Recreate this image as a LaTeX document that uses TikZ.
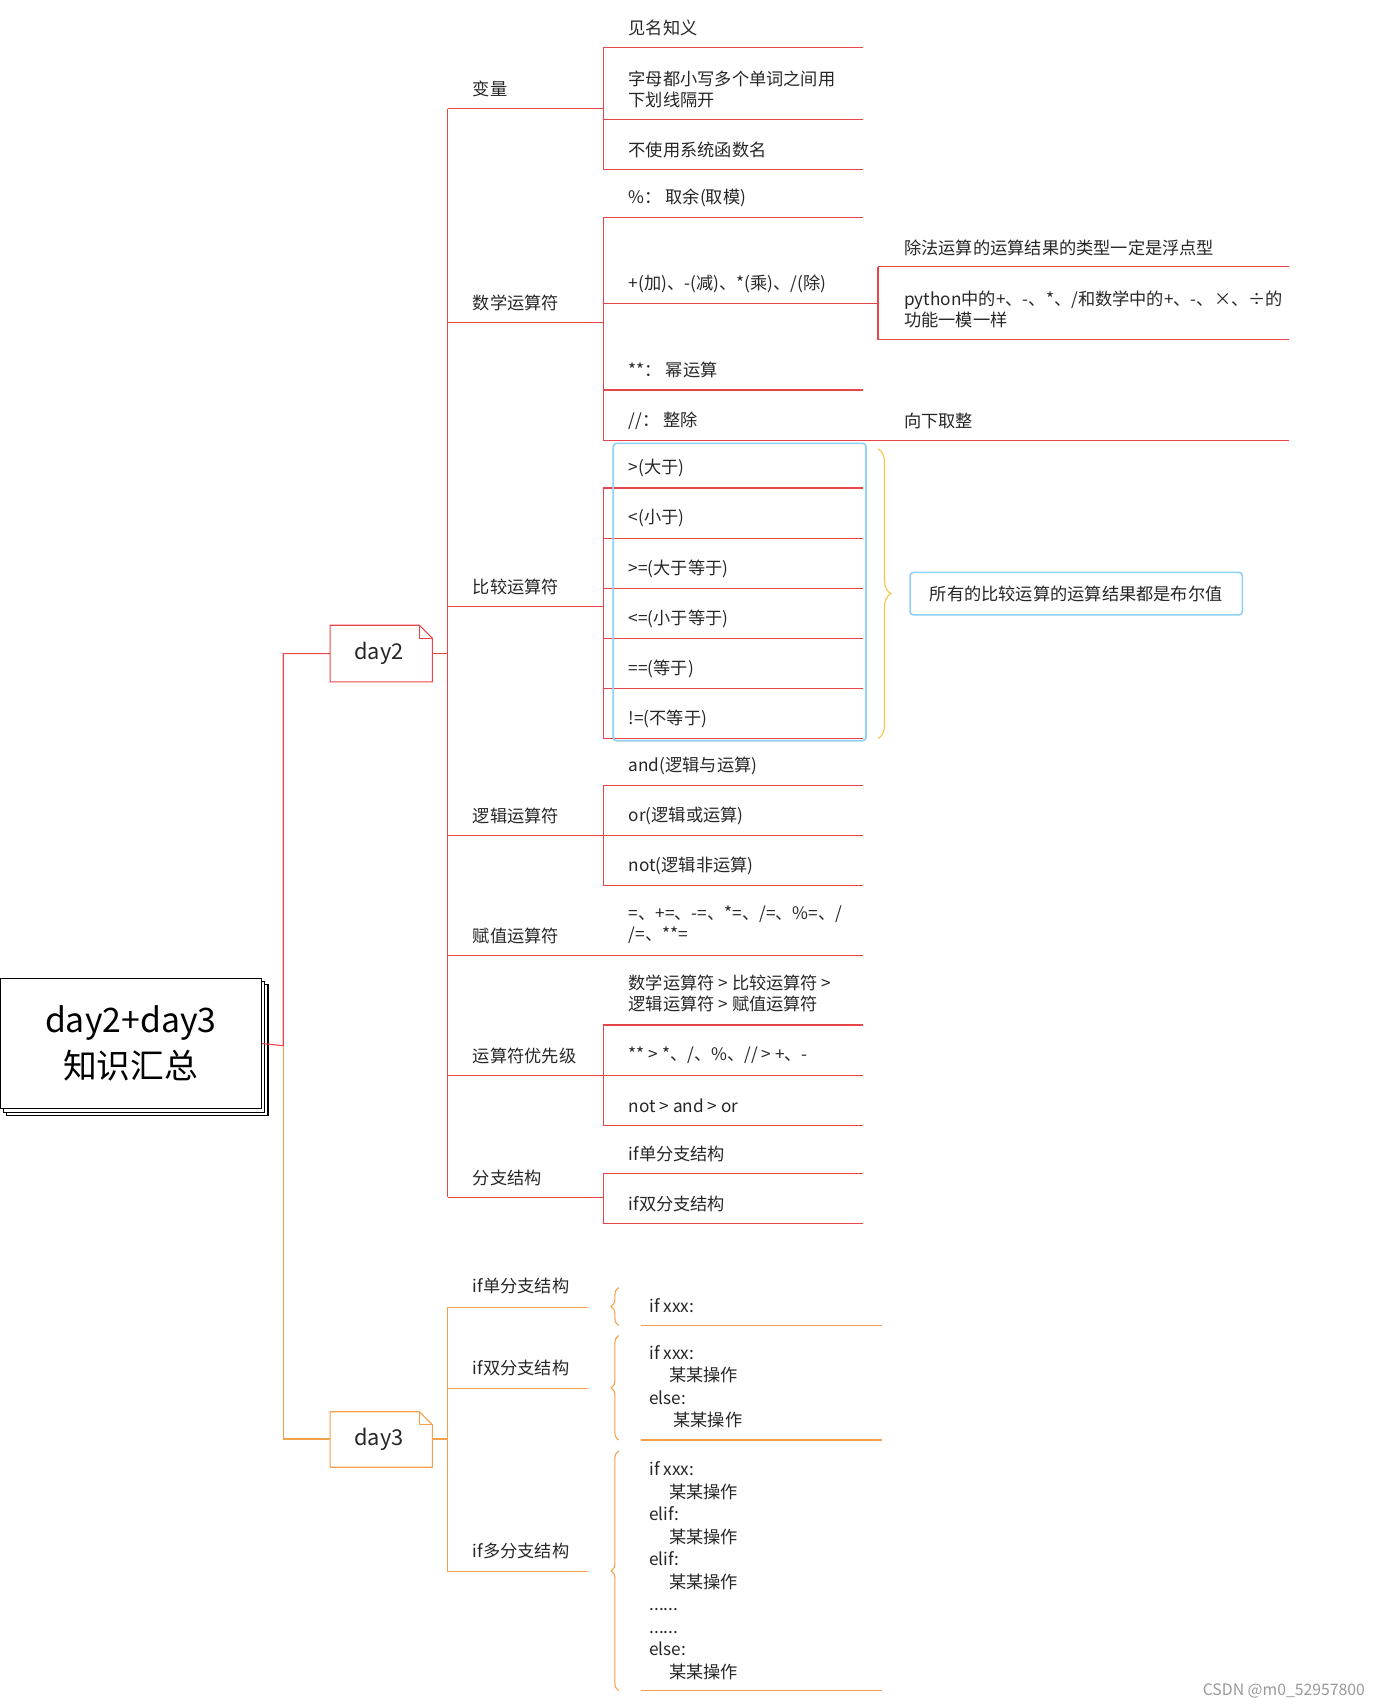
\documentclass[tikz,border=0pt]{standalone}
\usepackage{fontspec}
\setmainfont{Noto Sans CJK SC}
\usetikzlibrary{decorations.pathreplacing}
\definecolor{rd}{HTML}{E8454A}
\definecolor{og}{HTML}{F5A04A}
\definecolor{bl}{HTML}{8FD0F5}
\definecolor{yl}{HTML}{F5C242}
\tikzset{
 t/.style={anchor=west,inner sep=0pt,font=\fontsize{15.8}{19}\selectfont,align=left,text=black!85},
 r/.style={draw=rd,line width=1pt},
 o/.style={draw=og,line width=1pt},
}
\begin{document}
\begin{tikzpicture}[x=1pt,y=-1pt]
\useasboundingbox (0,0) rectangle (1280,1568);
% root
\draw[line width=1pt] (6,904) rectangle (246,1024);
\draw[line width=1pt,fill=white] (3,901) rectangle (243,1021);
\node[draw,line width=1pt,fill=white,minimum width=240pt,minimum height=120pt,inner sep=0pt,align=center,font=\fontsize{31}{42}\selectfont] (root) at (120,958) {day2+day3\\知识汇总};
\coordinate (j) at (260,960);
\draw[r] (root.east) -- (j) -- (260,600) -- (303,600);
\draw[o] (j) -- (260,1321) -- (303,1321);
% day2
\draw[r,fill=white] (303,574) -- (385,574) -- (397,586) -- (397,626) -- (303,626) -- cycle;
\draw[r] (385,574) -- (385,586) -- (397,586);
\node[t,anchor=center,font=\fontsize{20}{22}\selectfont] (d2) at (348,600) {day2};
\draw[o,fill=white] (303,1296) -- (385,1296) -- (397,1308) -- (397,1347) -- (303,1347) -- cycle;
\draw[o] (385,1296) -- (385,1308) -- (397,1308);
\node[t,anchor=center,font=\fontsize{20}{22}\selectfont] (d3) at (348,1321) {day3};
% day2 trunk
\draw[r] (397,600) -- (411,600);
\draw[r] (411,100) -- (411,1099);
\foreach \y/\s in {100/变量,296/数学运算符,557/比较运算符,767/逻辑运算符,877/赋值运算符,987/运算符优先级,1099/分支结构}{
 \draw[r] (411,\y) -- (554,\y);
 \node[t] at (434,\y-18) {\s};
}
% 变量
\draw[r] (554,44) -- (554,156);
\foreach \y in {44,110,156} \draw[r] (554,\y) -- (792,\y);
\node[t] at (577,26) {见名知义};
\node[t] at (577,82) {字母都小写多个单词之间用\\下划线隔开};
\node[t] at (577,138) {不使用系统函数名};
% 数学
\draw[r] (554,200) -- (554,404);
\foreach \y in {200,279,358} \draw[r] (554,\y) -- (792,\y);
\draw[r] (554,404) -- (1183,404);
\draw[r] (792,279) -- (806,279);
\draw[r] (806,245) -- (806,312);
\draw[r] (806,245) -- (1183,245);
\draw[r] (806,312) -- (1183,312);
\node[t] at (577,182) {\%： 取余(取模)};
\node[t] at (577,261) {+(加)、-(减)、*(乘)、/(除)};
\node[t] at (577,340) {**： 幂运算};
\node[t] at (577,386) {//： 整除};
\node[t] at (830,228) {除法运算的运算结果的类型一定是浮点型};
\node[t] at (830,284) {python中的+、-、*、/和数学中的+、-、×、÷的\\功能一模一样};
\node[t] at (830,386) {向下取整};
% 比较
\draw[r] (554,448) -- (554,678);
\foreach \y in {448,494,540,586,632,678} \draw[r] (554,\y) -- (792,\y);
\node[t] at (577,430) {>(大于)};
\node[t] at (577,476) {<(小于)};
\node[t] at (577,522) {>=(大于等于)};
\node[t] at (577,568) {<=(小于等于)};
\node[t] at (577,614) {==(等于)};
\node[t] at (577,660) {!=(不等于)};
\draw[bl,line width=1.5pt,rounded corners=3pt] (563,407) rectangle (795,680);
\draw[yl,line width=1pt,decorate,decoration={brace,amplitude=12pt}] (806,412) -- (806,678);
\node[draw=bl,line width=1.5pt,rounded corners=3pt,minimum width=305pt,minimum height=39pt,font=\fontsize{15.8}{19}\selectfont,text=black!85] (cmp) at (988,545) {所有的比较运算的运算结果都是布尔值};
% 逻辑
\draw[r] (554,721) -- (554,813);
\foreach \y in {721,767,813} \draw[r] (554,\y) -- (792,\y);
\node[t] at (577,703) {and(逻辑与运算)};
\node[t] at (577,749) {or(逻辑或运算)};
\node[t] at (577,795) {not(逻辑非运算)};
% 赋值
\draw[r] (554,877) -- (792,877);
\node[t] at (577,849) {=、+=、-=、*=、/=、\%=、/\\/=、**=};
% 优先级
\draw[r] (554,941) -- (554,1033);
\foreach \y in {941,987,1033} \draw[r] (554,\y) -- (792,\y);
\node[t] at (577,912) {数学运算符 > 比较运算符 >\\逻辑运算符 > 赋值运算符};
\node[t] at (577,969) {** > *、/、\%、// > +、-};
\node[t] at (577,1015) {not > and > or};
% 分支
\draw[r] (554,1077) -- (554,1123);
\foreach \y in {1077,1123} \draw[r] (554,\y) -- (792,\y);
\node[t] at (577,1059) {if单分支结构};
\node[t] at (577,1105) {if双分支结构};
% day3
\draw[o] (397,1321) -- (411,1321);
\draw[o] (411,1200) -- (411,1443);
\foreach \y/\s in {1200/if单分支结构,1275/if双分支结构,1443/if多分支结构}{
 \draw[o] (411,\y) -- (540,\y);
 \node[t] at (434,\y-19) {\s};
}
\draw[o,decorate,decoration={brace,amplitude=7pt}] (568,1217) -- (568,1182);
\draw[o,decorate,decoration={brace,amplitude=7pt}] (568,1322) -- (568,1226);
\draw[o,decorate,decoration={brace,amplitude=7pt}] (568,1552) -- (568,1332);
\draw[o] (588,1217) -- (810,1217);
\draw[o,line width=2pt] (588,1322) -- (810,1322);
\draw[o] (588,1552) -- (810,1552);
\node[t] at (596,1199) {if xxx:};
\node[t,font=\fontsize{15.8}{20.7}\selectfont] at (596,1273) {if xxx:\\\hspace*{18pt}某某操作\\else:\\\hspace*{22pt}某某操作};
\node[t,font=\fontsize{15.8}{20.7}\selectfont] at (596,1442) {if xxx:\\\hspace*{18pt}某某操作\\elif:\\\hspace*{18pt}某某操作\\elif:\\\hspace*{18pt}某某操作\\......\\......\\else:\\\hspace*{18pt}某某操作};
\node[t,text=black!40,font=\fontsize{14.5}{16}\selectfont] at (1104,1552) {CSDN @m0\_52957800};
\end{tikzpicture}
\end{document}
